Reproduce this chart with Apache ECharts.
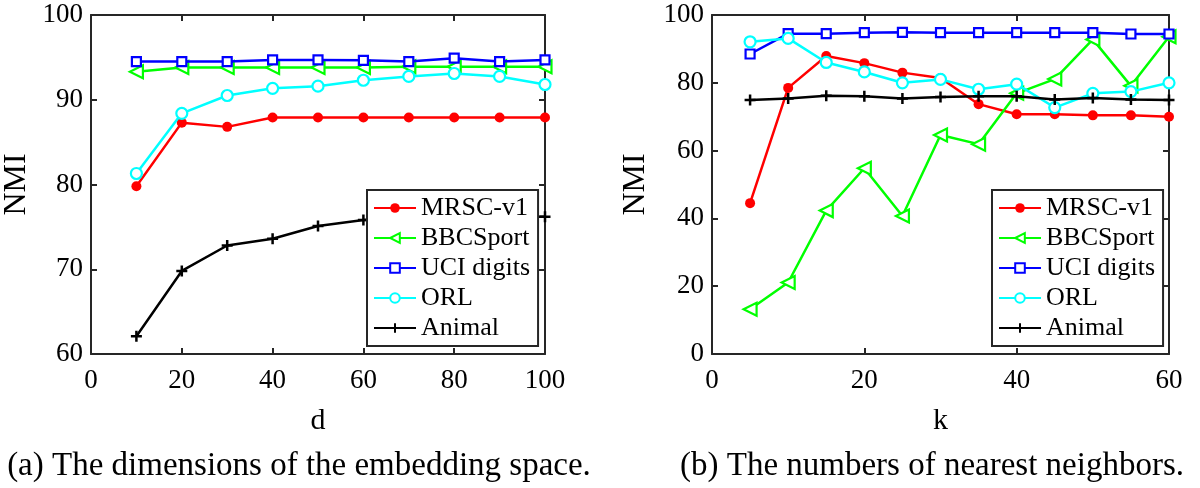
<!DOCTYPE html>
<html><head><meta charset="utf-8">
<script src="https://cdn.jsdelivr.net/npm/echarts@6/dist/echarts.min.js"></script>
<style>html,body{margin:0;padding:0;background:#fff}#c{width:1200px;height:488px}</style>
</head><body><div id="c"></div>
<script>
const seriesNames = ['MRSC-v1','BBCSport','UCI digits','ORL','Animal'];
const dVals = [10,20,30,40,50,60,70,80,90,100];
const kVals = [5,10,15,20,25,30,35,40,45,50,55,60];
const mrscD   = [79.8, 87.3, 86.8, 87.9, 87.9, 87.9, 87.9, 87.9, 87.9, 87.9];
const bbcD    = [93.3, 93.8, 93.8, 93.8, 93.8, 93.8, 93.9, 93.9, 93.9, 93.9];
const uciD    = [94.5, 94.5, 94.5, 94.7, 94.7, 94.65, 94.5, 94.9, 94.5, 94.7];
const orlD    = [81.3, 88.4, 90.5, 91.35, 91.6, 92.3, 92.75, 93.1, 92.75, 91.8];
const animalD = [62.1, 69.8, 72.8, 73.6, 75.1, 75.8, 76.0, 76.1, 76.2, 76.2];
const mrscK   = [44.5, 78.5, 87.9, 85.8, 83.0, 81.4, 73.7, 70.7, 70.7, 70.4, 70.4, 70.0];
const bbcK    = [13.2, 21.1, 42.3, 54.8, 40.7, 64.6, 61.9, 76.9, 81.1, 92.8, 79.1, 93.6];
const uciK    = [88.5, 94.5, 94.5, 94.8, 94.9, 94.8, 94.8, 94.8, 94.8, 94.8, 94.4, 94.4];
const orlK    = [92.1, 93.1, 86.0, 83.2, 80.0, 81.0, 78.1, 79.6, 72.7, 76.9, 77.4, 80.0];
const animalK = [74.9, 75.4, 76.2, 76.0, 75.4, 75.8, 76.0, 76.0, 75.1, 75.5, 75.1, 74.9];
const captionA = '(a) The dimensions of the embedding space.';
const captionB = '(b) The numbers of nearest neighbors.';

const FONT = 'Liberation Serif';
const AX = '#262626';
const styles = [
  {color:'#ff0000', symbol:'circle', symbolSize:10, itemStyle:{color:'#ff0000'}},
  {color:'#00ff00', symbol:'triangle', symbolRotate:90, symbolSize:13, itemStyle:{color:'#ffffff', borderColor:'#00ff00', borderWidth:2.2}},
  {color:'#0000ff', symbol:'rect', symbolSize:9, itemStyle:{color:'#ffffff', borderColor:'#0000ff', borderWidth:2.2}},
  {color:'#00ffff', symbol:'circle', symbolSize:11, itemStyle:{color:'#ffffff', borderColor:'#00ffff', borderWidth:2.2}},
  {color:'#000000', symbol:'path://M5,0L5,10M0,5L10,5', symbolSize:11, itemStyle:{color:'none', borderColor:'#000000', borderWidth:2.5}}
];
function zip(xs, ys){ return xs.map((x,i)=>[x, ys[i]]); }
function mkSeries(xs, arrs, gi){
  return arrs.map((ys, i) => Object.assign({
    type:'line', name:seriesNames[i], xAxisIndex:gi*2, yAxisIndex:gi*2,
    data: zip(xs, ys), lineStyle:{width:2.5, color:styles[i].color},
    z: 2 + i*0.1, animation:false
  }, styles[i]));
}
function xAx(gi, min, max, interval, name, top){
  return {
    type:'value', gridIndex:gi, min, max, interval, position: top?'top':'bottom',
    name: top?'':name, nameLocation:'middle', nameGap:52,
    nameTextStyle:{fontFamily:FONT, fontSize:30, color:'#000'},
    axisLine:{show:true, onZero:false, lineStyle:{color:AX, width:2}},
    axisTick:{show:true, inside:true, length:6, lineStyle:{color:AX, width:2}},
    axisLabel:{show:!top, fontFamily:FONT, fontSize:27, color:'#000', margin:13},
    splitLine:{show:false}
  };
}
function yAx(gi, min, max, interval, right){
  return {
    type:'value', gridIndex:gi, min, max, interval, position: right?'right':'left',
    name: right?'':'NMI', nameLocation:'middle', nameRotate:90, nameGap: gi===0?58:60,
    nameTextStyle:{fontFamily:FONT, fontSize:32, color:'#000'},
    axisLine:{show:true, onZero:false, lineStyle:{color:AX, width:2}},
    axisTick:{show:true, inside:true, length:6, lineStyle:{color:AX, width:2}},
    axisLabel:{show:!right, fontFamily:FONT, fontSize:27, color:'#000', margin:8},
    splitLine:{show:false}
  };
}
function mkLegend(left){
  return {
    left, top:190, orient:'vertical', itemWidth:42, itemHeight:12, itemGap:0,
    padding:[3,8,3,6], borderColor:AX, borderWidth:2, backgroundColor:'#fff',
    textStyle:{fontFamily:FONT, fontSize:26, color:'#000', lineHeight:30},
    data: seriesNames, selectedMode:false
  };
}
const chart = echarts.init(document.getElementById('c'), null, {renderer:'canvas'});
chart.setOption({
  animation:false,
  backgroundColor:'#fff',
  grid:[
    {left:88, top:15, width:457, height:339},
    {left:712, top:15, width:457, height:339}
  ],
  xAxis:[
    xAx(0,0,100,20,'d',false), xAx(0,0,100,20,'d',true),
    xAx(1,0,60,20,'k',false), xAx(1,0,60,20,'k',true)
  ],
  yAxis:[
    yAx(0,60,100,10,false), yAx(0,60,100,10,true),
    yAx(1,0,100,20,false), yAx(1,0,100,20,true)
  ],
  legend:[mkLegend(367), mkLegend(992)],
  series: [].concat(
    mkSeries(dVals,[mrscD,bbcD,uciD,orlD,animalD],0),
    mkSeries(kVals,[mrscK,bbcK,uciK,orlK,animalK],1)
  ),
  graphic:[
    {type:'text', style:{text:captionA, font:'33px "Liberation Serif"', fill:'#000', textAlign:'center', textVerticalAlign:'middle'}, x:299, y:466},
    {type:'text', style:{text:captionB, font:'33px "Liberation Serif"', fill:'#000', textAlign:'center', textVerticalAlign:'middle'}, x:932, y:466}
  ]
});
</script></body></html>
